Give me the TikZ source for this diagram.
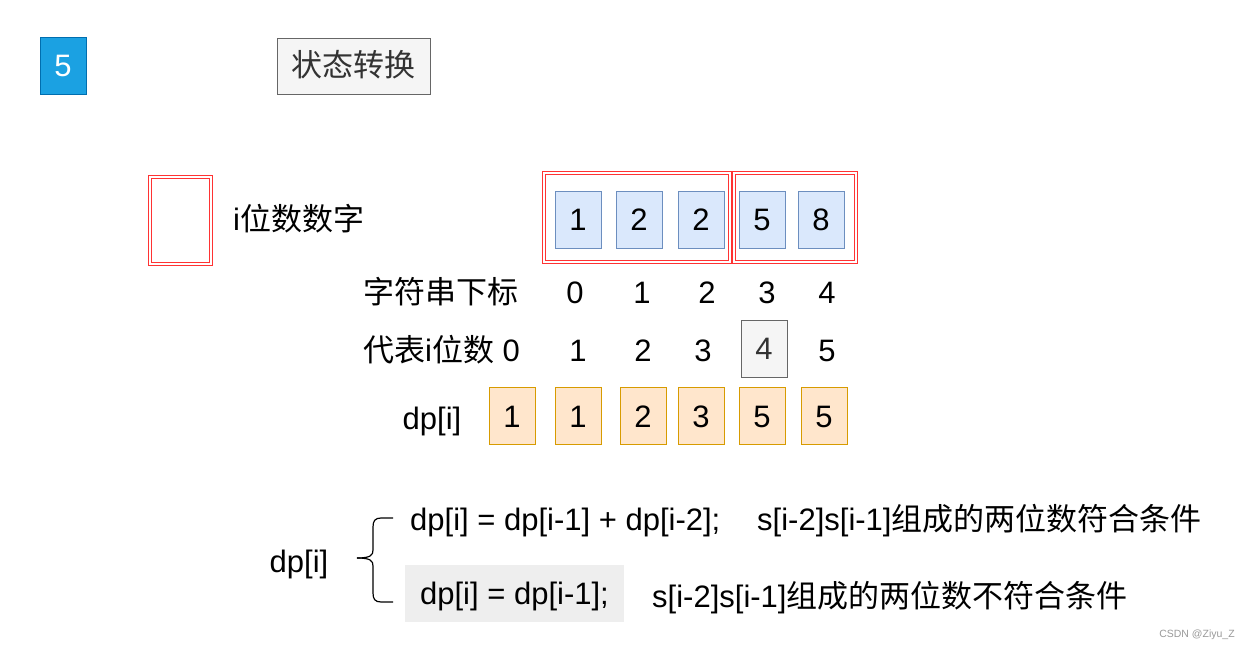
\documentclass[tikz,border=0pt]{standalone}
\usepackage{fontspec}
\setmainfont{Liberation Sans}
\newfontfamily\cjk{Noto Sans CJK SC}
\definecolor{cyanfill}{HTML}{1BA1E2}
\definecolor{cyanline}{HTML}{006EAF}
\definecolor{bluefill}{HTML}{DAE8FC}
\definecolor{blueline}{HTML}{6C8EBF}
\definecolor{orangefill}{HTML}{FFE6CC}
\definecolor{orangeline}{HTML}{D79B00}
\definecolor{greyfill}{HTML}{F5F5F5}
\definecolor{greyline}{HTML}{666666}
\definecolor{greytext}{HTML}{333333}
\definecolor{redline}{HTML}{FF3333}
\definecolor{shade}{HTML}{EEEEEE}
\tikzset{
  txt/.style={inner sep=0pt,text height=22pt,text depth=0pt,font=\fontsize{31}{37}\selectfont},
  numcell/.style={txt,draw,minimum width=46pt,minimum height=57pt},
  bluecell/.style={numcell,draw=blueline,fill=bluefill},
  dpcell/.style={numcell,draw=orangeline,fill=orangefill},
  redframe/.style={draw=redline,double=white,double distance=1.8pt,line width=1.3pt,inner sep=0pt},
}
\begin{document}
\begin{tikzpicture}[x=1pt,y=-1pt]
\useasboundingbox (0,0) rectangle (1250,652);
\node[numcell,draw=cyanline,fill=cyanfill,text=white](N5) at (63,65.5) {5};
\node[txt,draw=greyline,fill=greyfill,text=greytext,minimum width=153pt,minimum height=56pt](T) at (353.5,66) {\cjk 状态转换};

\node[redframe,minimum width=61pt,minimum height=87pt](F0) at (180.5,220.5) {};
\node[txt,anchor=west](L0) at (233,220) {i{\cjk 位数数字}};

\node[redframe,minimum width=186pt,minimum height=89pt](FA) at (637,217.5) {};
\node[redframe,minimum width=122pt,minimum height=89pt](FB) at (795,217.5) {};
\node[bluecell](B1) at (578,220) {1};
\node[bluecell](B2) at (639,220) {2};
\node[bluecell](B3) at (701,220) {2};
\node[bluecell](B4) at (762,220) {5};
\node[bluecell](B5) at (821,220) {8};

\node[txt,anchor=west](R1) at (363,293) {\cjk 字符串下标};
\node[txt](S0) at (575,293) {0};
\node[txt](S1) at (642,293) {1};
\node[txt](S2) at (707,293) {2};
\node[txt](S3) at (767,293) {3};
\node[txt](S4) at (827,293) {4};

\node[txt,anchor=west](R2) at (363,350) {{\cjk 代表}i{\cjk 位数} 0};
\node[txt](I1) at (578,350) {1};
\node[txt](I2) at (643,350) {2};
\node[txt](I3) at (703,350) {3};
\node[numcell,draw=greyline,fill=greyfill,text=greytext](I4) at (764,348.5) {4};
\node[txt](I5) at (827,350) {5};

\node[txt](R3) at (432,418) {dp[i]};
\node[dpcell](D0) at (512,416) {1};
\node[dpcell](D1) at (578,416) {1};
\node[dpcell](D2) at (643,416) {2};
\node[dpcell](D3) at (701,416) {3};
\node[dpcell](D4) at (762,416) {5};
\node[dpcell](D5) at (824,416) {5};

\node[txt](DP) at (299,561) {dp[i]};
\coordinate(BT) at (393,518);
\coordinate(BM) at (357,558);
\coordinate(BU) at (393,602);
\draw[line width=1.2pt](BT)--(381,518) .. controls (375,518) and (373,521) .. (373,527)--(373,550) .. controls (373,555) and (371,558) .. (BM);
\draw[line width=1.2pt](BU)--(381,602) .. controls (375,602) and (373,599) .. (373,593)--(373,566) .. controls (373,561) and (371,558) .. (BM);

\node[txt,anchor=west](E1) at (410,519) {dp[i] = dp[i-1] + dp[i-2];};
\node[txt,anchor=west](C1) at (757,519) {s[i-2]s[i-1]{\cjk 组成的两位数符合条件}};
\node[txt,fill=shade,minimum width=219pt,minimum height=57pt](E2) at (514.5,593.5) {dp[i] = dp[i-1];};
\node[txt,anchor=west](C2) at (652,596) {s[i-2]s[i-1]{\cjk 组成的两位数不符合条件}};

\node[inner sep=0pt,text=gray!80,font=\fontsize{10.5}{12}\selectfont](W) at (1197,635) {CSDN @Ziyu\_Z};
\end{tikzpicture}
\end{document}
